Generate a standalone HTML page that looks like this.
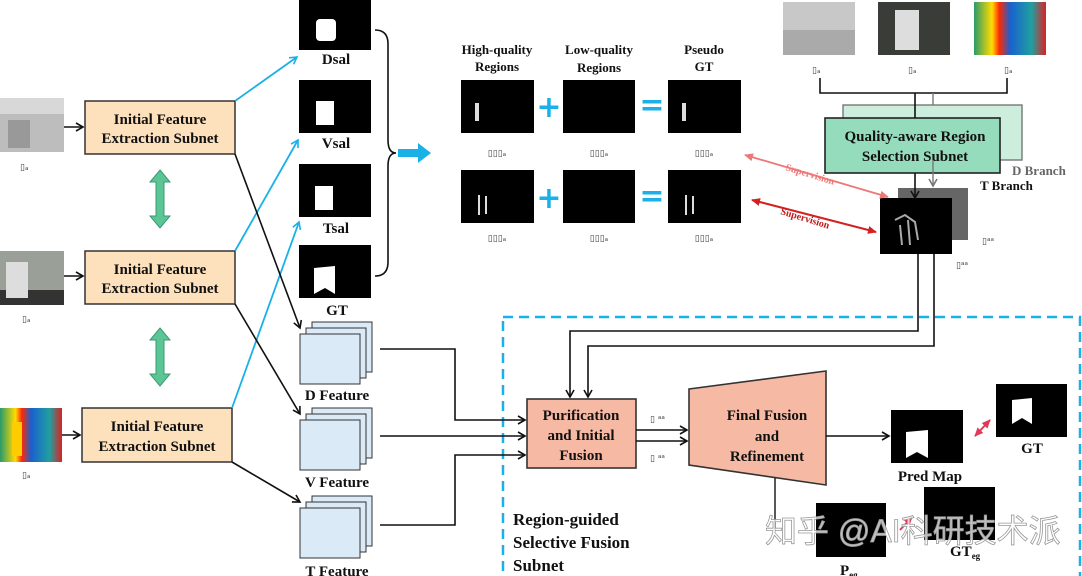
<!DOCTYPE html>
<html><head><meta charset="utf-8"><style>
body{margin:0;background:#fff;}
svg{display:block;font-family:"Liberation Serif",serif;font-weight:bold;}
.b{font-family:"Liberation Serif",serif;font-weight:bold;fill:#111;}
.t{font-family:"DejaVu Sans",sans-serif;font-weight:normal;fill:#444;font-size:9px;}
</style></head><body>
<svg width="1082" height="576" viewBox="0 0 1082 576" xmlns="http://www.w3.org/2000/svg">
<defs>
<marker id="ak" markerWidth="10" markerHeight="10" refX="8" refY="5" orient="auto" markerUnits="userSpaceOnUse"><path d="M1,1 L8,5 L1,9" fill="none" stroke="#111" stroke-width="1.6"/></marker>
<marker id="ab" markerWidth="10" markerHeight="10" refX="8" refY="5" orient="auto" markerUnits="userSpaceOnUse"><path d="M1,1 L8,5 L1,9" fill="none" stroke="#1ab0e8" stroke-width="1.6"/></marker>
<marker id="ag" markerWidth="10" markerHeight="10" refX="8" refY="5" orient="auto" markerUnits="userSpaceOnUse"><path d="M1,1 L8,5 L1,9" fill="none" stroke="#777" stroke-width="1.6"/></marker>
<marker id="ar" markerWidth="10" markerHeight="10" refX="8" refY="5" orient="auto-start-reverse" markerUnits="userSpaceOnUse"><path d="M0,1 L9,5 L0,9 z" fill="#d42020"/></marker>
<marker id="alr" markerWidth="10" markerHeight="10" refX="8" refY="5" orient="auto-start-reverse" markerUnits="userSpaceOnUse"><path d="M0,1 L9,5 L0,9 z" fill="#ee7777"/></marker>
<marker id="ap" markerWidth="10" markerHeight="10" refX="8" refY="5" orient="auto-start-reverse" markerUnits="userSpaceOnUse"><path d="M0,1 L9,5 L0,9 z" fill="#e03a5a"/></marker>
<linearGradient id="th" x1="0" x2="1"><stop offset="0" stop-color="#2a9a6a"/><stop offset="0.25" stop-color="#ffdd00"/><stop offset="0.35" stop-color="#ff2a00"/><stop offset="0.5" stop-color="#1a60d0"/><stop offset="0.8" stop-color="#20a0a0"/><stop offset="1" stop-color="#dd2020"/></linearGradient>
</defs>

<!-- left inputs -->
<rect x="0" y="98" width="64" height="54" fill="#bdbdbd"/><rect x="0" y="98" width="64" height="16" fill="#d8d8d8"/><rect x="8" y="120" width="22" height="28" fill="#999"/>
<text x="20" y="170" class="t">▯ₐ</text>
<rect x="0" y="251" width="64" height="54" fill="#9aa098"/><rect x="0" y="290" width="64" height="15" fill="#333"/><rect x="6" y="262" width="22" height="36" fill="#ddd"/>
<text x="22" y="322" class="t">▯ₐ</text>
<rect x="0" y="408" width="62" height="54" fill="url(#th)"/><rect x="12" y="422" width="10" height="34" fill="#ffcc00"/>
<text x="22" y="478" class="t">▯ₐ</text>
<line x1="64" y1="127" x2="83" y2="127" stroke="#111" stroke-width="1.6" marker-end="url(#ak)"/>
<line x1="64" y1="276" x2="83" y2="276" stroke="#111" stroke-width="1.6" marker-end="url(#ak)"/>
<line x1="62" y1="435" x2="80" y2="435" stroke="#111" stroke-width="1.6" marker-end="url(#ak)"/>

<g fill="#fde0bc" stroke="#333" stroke-width="1.5">
<rect x="85" y="101" width="150" height="53"/><rect x="85" y="251" width="150" height="53"/><rect x="82" y="408" width="150" height="54"/>
</g>
<g class="b" font-size="15" text-anchor="middle">
<text x="160" y="124">Initial Feature</text><text x="160" y="143">Extraction Subnet</text>
<text x="160" y="274">Initial Feature</text><text x="160" y="293">Extraction Subnet</text>
<text x="157" y="431">Initial Feature</text><text x="157" y="451">Extraction Subnet</text>
</g>
<!-- green double arrows -->
<g fill="#5cc596" stroke="#3a9a70" stroke-width="1">
<path d="M160,170 L170,182 L164,182 L164,216 L170,216 L160,228 L150,216 L156,216 L156,182 L150,182 Z"/>
<path d="M160,328 L170,340 L164,340 L164,374 L170,374 L160,386 L150,374 L156,374 L156,340 L150,340 Z"/>
</g>

<!-- connectors from boxes -->
<g stroke="#1ab0e8" stroke-width="1.8" marker-end="url(#ab)">
<line x1="235" y1="101" x2="297" y2="57"/><line x1="235" y1="251" x2="298" y2="140"/><line x1="232" y1="408" x2="299" y2="222"/>
</g>
<g stroke="#111" stroke-width="1.6" marker-end="url(#ak)">
<line x1="235" y1="154" x2="300" y2="328"/><line x1="235" y1="304" x2="300" y2="414"/><line x1="232" y1="462" x2="300" y2="502"/>
</g>

<!-- sal maps -->
<g fill="#000"><rect x="299" y="0" width="72" height="50"/><rect x="299" y="80" width="72" height="53"/><rect x="299" y="164" width="72" height="53"/><rect x="299" y="245" width="72" height="53"/></g>
<g fill="#fff"><rect x="316" y="19" width="20" height="22" rx="4"/><rect x="316" y="101" width="18" height="24"/><rect x="315" y="186" width="18" height="24"/><path d="M314,268 L335,266 L335,294 L325,288 L314,294Z"/></g>
<g class="b" font-size="15" text-anchor="middle"><text x="336" y="64">Dsal</text><text x="336" y="148">Vsal</text><text x="336" y="233">Tsal</text><text x="337" y="315">GT</text></g>
<path d="M375,30 Q388,30 388,44 L388,140 Q388,153 396,153 Q388,153 388,166 L388,262 Q388,276 375,276" fill="none" stroke="#111" stroke-width="1.6"/>
<path d="M398,149 L418,149 L418,143 L431,153 L418,163 L418,157 L398,157Z" fill="#1ab0e8"/>

<!-- feature stacks -->
<g fill="#dbeaf7" stroke="#333" stroke-width="1">
<rect x="312" y="322" width="60" height="50"/><rect x="306" y="328" width="60" height="50"/><rect x="300" y="334" width="60" height="50"/>
<rect x="312" y="408" width="60" height="50"/><rect x="306" y="414" width="60" height="50"/><rect x="300" y="420" width="60" height="50"/>
<rect x="312" y="496" width="60" height="50"/><rect x="306" y="502" width="60" height="50"/><rect x="300" y="508" width="60" height="50"/>
</g>
<g class="b" font-size="15" text-anchor="middle"><text x="337" y="400">D Feature</text><text x="337" y="487">V Feature</text><text x="337" y="576">T Feature</text></g>

<!-- middle region images -->
<g class="b" font-size="13" text-anchor="middle">
<text x="497" y="54">High-quality</text><text x="497" y="71">Regions</text>
<text x="599" y="54">Low-quality</text><text x="599" y="72">Regions</text>
<text x="704" y="54">Pseudo</text><text x="704" y="71">GT</text>
</g>
<g fill="#000">
<rect x="461" y="80" width="73" height="53"/><rect x="563" y="80" width="72" height="53"/><rect x="668" y="80" width="73" height="53"/>
<rect x="461" y="170" width="73" height="53"/><rect x="563" y="170" width="72" height="53"/><rect x="668" y="170" width="73" height="53"/>
</g>
<g fill="#ddd"><rect x="475" y="103" width="4" height="18"/><rect x="682" y="103" width="4" height="18"/><rect x="478" y="195" width="2" height="20"/><rect x="485" y="196" width="2" height="18"/><rect x="685" y="195" width="2" height="20"/><rect x="692" y="196" width="2" height="18"/></g>
<g fill="#1ab0e8" font-family="DejaVu Sans,sans-serif" font-weight="bold" font-size="30" text-anchor="middle">
<text x="549" y="117">+</text><text x="549" y="208">+</text><text x="652" y="115">=</text><text x="652" y="206">=</text>
</g>
<g class="t" text-anchor="middle"><text x="497" y="156">▯▯▯ₐ</text><text x="599" y="156">▯▯▯ₐ</text><text x="704" y="156">▯▯▯ₐ</text>
<text x="497" y="241">▯▯▯ₐ</text><text x="599" y="241">▯▯▯ₐ</text><text x="704" y="241">▯▯▯ₐ</text></g>

<!-- top right -->
<rect x="783" y="2" width="72" height="53" fill="#c8c8c8"/><rect x="783" y="30" width="72" height="25" fill="#aaa"/>
<rect x="878" y="2" width="72" height="53" fill="#3a3c38"/><rect x="895" y="10" width="24" height="40" fill="#ddd"/>
<rect x="974" y="2" width="72" height="53" fill="url(#th)"/>
<g class="t"><text x="812" y="73">▯ₐ</text><text x="908" y="73">▯ₐ</text><text x="1004" y="73">▯ₐ</text></g>
<path d="M820,78 L820,93 L1007,93 L1007,78" fill="none" stroke="#111" stroke-width="1.6"/>
<line x1="933" y1="93" x2="933" y2="105" stroke="#777" stroke-width="1.4"/>
<rect x="843" y="105" width="179" height="55" fill="#cdeedd" stroke="#777" stroke-width="1.4"/>
<rect x="825" y="118" width="175" height="55" fill="#95dcbc" stroke="#222" stroke-width="1.6"/>
<line x1="915" y1="93" x2="915" y2="118" stroke="#111" stroke-width="1.6"/>
<g class="b" font-size="15" text-anchor="middle"><text x="915" y="141">Quality-aware Region</text><text x="915" y="161">Selection Subnet</text></g>
<text x="1012" y="175" class="b" font-size="13" fill="#666" style="fill:#666">D Branch</text>
<text x="980" y="190" class="b" font-size="13">T Branch</text>
<rect x="898" y="188" width="70" height="52" fill="#666"/>
<line x1="933" y1="160" x2="933" y2="186" stroke="#777" stroke-width="1.4" marker-end="url(#ag)"/>
<rect x="880" y="198" width="72" height="56" fill="#000"/>
<path d="M895,220 L905,215 L915,222 L918,240 M900,225 L902,245 M908,220 L910,245" stroke="#aaa" stroke-width="2" fill="none"/>
<line x1="915" y1="173" x2="915" y2="198" stroke="#111" stroke-width="1.6" marker-end="url(#ak)"/>
<g class="t"><text x="982" y="244">▯ᵃᵃ</text><text x="956" y="268">▯ᵃᵃ</text></g>
<line x1="745" y1="155" x2="888" y2="197" stroke="#ee7777" stroke-width="1.8" marker-start="url(#alr)" marker-end="url(#alr)"/>
<line x1="752" y1="200" x2="876" y2="232" stroke="#d42020" stroke-width="2" marker-start="url(#ar)" marker-end="url(#ar)"/>
<text transform="translate(785,170) rotate(17)" class="b" font-size="10" style="fill:#ee7777">Supervision</text>
<text transform="translate(780,214) rotate(17)" class="b" font-size="10" style="fill:#c01818">Supervision</text>

<!-- dashed region -->
<rect x="503" y="317" width="577" height="262" fill="none" stroke="#1ab0e8" stroke-width="2.5" stroke-dasharray="10,6"/>
<path d="M918,254 L918,331 L570,331 L570,397" fill="none" stroke="#111" stroke-width="1.6" marker-end="url(#ak)"/>
<path d="M934,254 L934,346 L588,346 L588,397" fill="none" stroke="#111" stroke-width="1.6" marker-end="url(#ak)"/>
<path d="M380,349 L455,349 L455,420 L525,420" fill="none" stroke="#111" stroke-width="1.6" marker-end="url(#ak)"/>
<line x1="380" y1="436" x2="525" y2="436" stroke="#111" stroke-width="1.6" marker-end="url(#ak)"/>
<path d="M380,525 L455,525 L455,455 L525,455" fill="none" stroke="#111" stroke-width="1.6" marker-end="url(#ak)"/>
<rect x="527" y="399" width="109" height="69" fill="#f5b9a4" stroke="#333" stroke-width="1.6"/>
<g class="b" font-size="15" text-anchor="middle"><text x="581" y="420">Purification</text><text x="581" y="440">and Initial</text><text x="581" y="460">Fusion</text></g>
<line x1="636" y1="430" x2="687" y2="430" stroke="#111" stroke-width="1.6" marker-end="url(#ak)"/>
<line x1="636" y1="441" x2="687" y2="441" stroke="#111" stroke-width="1.6" marker-end="url(#ak)"/>
<g class="t"><text x="650" y="422">▯ ᵃᵃ</text><text x="650" y="461">▯ ᵃᵃ</text></g>
<path d="M689,389 L826,371 L826,485 L689,465Z" fill="#f5b9a4" stroke="#333" stroke-width="1.6"/>
<g class="b" font-size="15" text-anchor="middle"><text x="767" y="420">Final Fusion</text><text x="767" y="441">and</text><text x="767" y="461">Refinement</text></g>
<line x1="826" y1="436" x2="889" y2="436" stroke="#111" stroke-width="1.4" marker-end="url(#ak)"/>
<line x1="775" y1="478" x2="775" y2="530" stroke="#111" stroke-width="1.4"/>
<rect x="891" y="410" width="72" height="53" fill="#000"/><path d="M906,432 L928,430 L928,458 L917,452 L906,458Z" fill="#fff"/>
<rect x="996" y="384" width="71" height="53" fill="#000"/><path d="M1012,400 L1032,398 L1032,424 L1022,418 L1012,424Z" fill="#fff"/>
<line x1="975" y1="436" x2="990" y2="420" stroke="#e03a5a" stroke-width="2" marker-start="url(#ap)" marker-end="url(#ap)"/>
<g class="b" font-size="15" text-anchor="middle"><text x="930" y="481">Pred Map</text><text x="1032" y="453">GT</text></g>
<rect x="816" y="503" width="70" height="54" fill="#000"/>
<rect x="924" y="487" width="71" height="53" fill="#000"/>
<line x1="900" y1="530" x2="912" y2="517" stroke="#e03a5a" stroke-width="2" marker-end="url(#ap)"/>
<text x="840" y="575" class="b" font-size="15">P<tspan font-size="9" dy="3">eg</tspan></text>
<text x="950" y="556" class="b" font-size="15">GT<tspan font-size="9" dy="3">eg</tspan></text>
<g class="b" font-size="17"><text x="513" y="525">Region-guided</text><text x="513" y="548">Selective Fusion</text><text x="513" y="571">Subnet</text></g>
<text x="765" y="542" font-family="'Liberation Sans','Noto Sans CJK SC',sans-serif" font-weight="normal" font-size="32" fill="#ffffff" fill-opacity="0.75" stroke="#999" stroke-width="0.8">知乎 @AI科研技术派</text>
</svg>
</body></html>
